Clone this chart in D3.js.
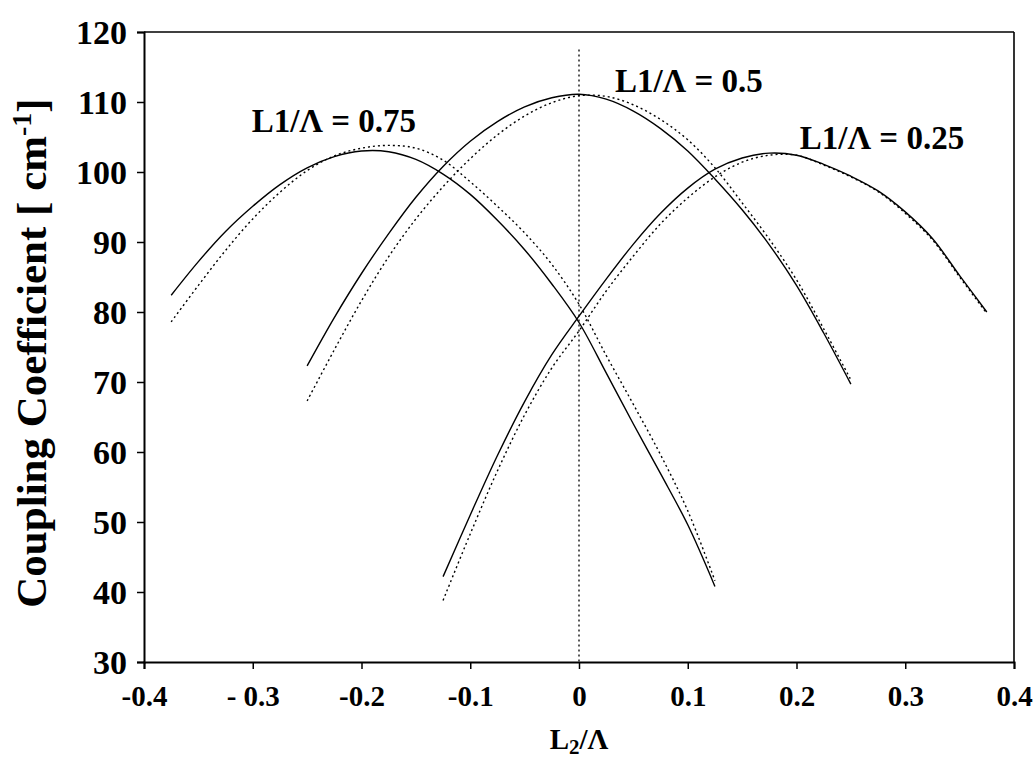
<!DOCTYPE html>
<html>
<head>
<meta charset="utf-8">
<script src="https://cdn.jsdelivr.net/npm/d3@7"></script>
<style>
  html, body { margin: 0; padding: 0; background: #fff; }
  svg { display: block; }
  text { font-family: "Liberation Serif", "Times New Roman", serif; font-weight: bold; fill: #000; }
</style>
</head>
<body>
<svg id="chart" width="1034" height="759"></svg>
<script>
// ---- data ----
const xTicks = [-0.4, -0.3, -0.2, -0.1, 0, 0.1, 0.2, 0.3, 0.4];
const xTickLabels = ["-0.4", "- 0.3", "-0.2", "-0.1", "0", "0.1", "0.2", "0.3", "0.4"];
const yTicks = [30, 40, 50, 60, 70, 80, 90, 100, 110, 120];

// L1/Λ = 0.75
const x075 = [-0.375, -0.35, -0.325, -0.3, -0.275, -0.25, -0.225, -0.2, -0.175, -0.15, -0.125, -0.1, -0.075, -0.05, -0.025, 0, 0.025, 0.05, 0.075, 0.1, 0.125];
const solid075 = [82.4, 87.2, 91.5, 95.1, 98.2, 100.6, 102.2, 103.0, 102.9, 101.8, 99.7, 96.8, 93.1, 88.9, 84.0, 78.5, 71.3, 64.0, 56.9, 49.6, 40.8];
const dotted075 = [78.6, 83.8, 88.8, 93.3, 97.1, 100.2, 102.3, 103.4, 103.8, 103.4, 101.7, 98.6, 95.1, 91.3, 86.8, 81.1, 73.8, 66.8, 59.6, 51.6, 41.6];

// L1/Λ = 0.5
const x05 = [-0.25, -0.225, -0.2, -0.175, -0.15, -0.125, -0.1, -0.075, -0.05, -0.025, 0, 0.025, 0.05, 0.075, 0.1, 0.125, 0.15, 0.175, 0.2, 0.225, 0.25];
const solid05 = [72.3, 79.2, 85.5, 91.2, 96.4, 100.8, 104.4, 107.2, 109.3, 110.6, 111.1, 110.4, 108.7, 106.2, 103.0, 99.0, 94.6, 89.6, 83.8, 77.0, 69.7];
const dotted05 = [67.3, 74.6, 81.6, 87.9, 93.3, 97.9, 101.9, 105.3, 108.0, 109.9, 110.9, 110.8, 109.6, 107.5, 104.6, 100.6, 95.6, 90.4, 84.6, 77.6, 70.3];

// L1/Λ = 0.25
const x025 = [-0.125, -0.1, -0.075, -0.05, -0.025, 0, 0.025, 0.05, 0.075, 0.1, 0.125, 0.15, 0.175, 0.2, 0.225, 0.25, 0.275, 0.3, 0.325, 0.35, 0.375];
const solid025 = [42.2, 51.0, 59.5, 67.2, 73.9, 79.4, 84.7, 89.7, 94.1, 97.7, 100.4, 102.0, 102.7, 102.4, 101.1, 99.4, 97.3, 94.3, 90.5, 85.2, 80.0];
const dotted025 = [38.8, 48.3, 57.3, 65.3, 72.0, 77.3, 83.0, 88.0, 92.6, 96.3, 99.3, 101.4, 102.4, 102.4, 101.0, 99.3, 97.2, 94.1, 90.3, 85.0, 79.8];

const labels = ["L1/Λ = 0.75", "L1/Λ = 0.5", "L1/Λ = 0.25"];
const labelX = [-0.301, 0.033, 0.203];
const labelY = [105.7, 111.4, 103.3];

// ---- layout ----
const W = 1034, H = 759;
const margin = { top: 32, right: 20, bottom: 97, left: 144 };
const svg = d3.select("#chart");
const g = svg.append("g").attr("transform", `translate(${margin.left},${margin.top})`);
const iw = W - margin.left - margin.right;
const ih = H - margin.top - margin.bottom;

const x = d3.scaleLinear().domain([-0.4, 0.4]).range([0, iw]);
const y = d3.scaleLinear().domain([30, 120]).range([ih, 0]);

// frame (top & right)
g.append("line").attr("x1", 0).attr("x2", iw).attr("y1", 0).attr("y2", 0)
  .attr("stroke", "#000").attr("stroke-width", 1.6);
g.append("line").attr("x1", iw).attr("x2", iw).attr("y1", 0).attr("y2", ih)
  .attr("stroke", "#000").attr("stroke-width", 1.6);

// vertical dotted line at 0
g.append("line")
  .attr("x1", x(0)).attr("x2", x(0))
  .attr("y1", y(117.5)).attr("y2", y(30))
  .attr("stroke", "#000").attr("stroke-width", 1.3)
  .attr("stroke-dasharray", "2,3");

// axes
const yAxis = g.append("g")
  .call(d3.axisLeft(y).tickValues(yTicks).tickSize(7).tickPadding(10).tickFormat(d3.format("d")));
yAxis.select(".domain").attr("stroke-width", 2);
yAxis.selectAll(".tick line").attr("stroke-width", 1.5);
yAxis.selectAll("text").style("font-size", "34px").attr("dy", "0.34em");

const xAxis = g.append("g").attr("transform", `translate(0,${ih})`)
  .call(d3.axisBottom(x).tickValues(xTicks).tickSize(7).tickFormat((d, i) => xTickLabels[i]));
xAxis.select(".domain").attr("stroke-width", 2);
xAxis.selectAll(".tick line").attr("stroke-width", 1.5);
xAxis.selectAll("text").style("font-size", "29px").attr("y", 44).attr("dy", 0);

// curves
const line = d3.line().x(d => x(d[0])).y(d => y(d[1])).curve(d3.curveCatmullRom.alpha(0.5));
const series = [
  [x075, solid075, false], [x075, dotted075, true],
  [x05, solid05, false], [x05, dotted05, true],
  [x025, solid025, false], [x025, dotted025, true]
];
series.forEach(([xs, vs, dotted]) => {
  g.append("path")
    .datum(xs.map((v, i) => [v, vs[i]]))
    .attr("d", line)
    .attr("fill", "none")
    .attr("stroke", "#000")
    .attr("stroke-width", 1.4)
    .attr("stroke-dasharray", dotted ? "2,3" : null);
});

// annotations
labels.forEach((t, i) => {
  g.append("text")
    .attr("x", x(labelX[i])).attr("y", y(labelY[i]))
    .style("font-size", "33px")
    .text(t);
});

// axis titles
const xt = svg.append("text")
  .attr("x", margin.left + x(0)).attr("y", 749)
  .attr("text-anchor", "middle")
  .style("font-size", "29px");
xt.append("tspan").text("L");
xt.append("tspan").attr("dy", 5).style("font-size", "21px").text("2");
xt.append("tspan").attr("dy", -5).text("/Λ");

const yt = svg.append("text")
  .attr("transform", "translate(46,353) rotate(-90)")
  .attr("text-anchor", "middle")
  .style("font-size", "43px");
yt.append("tspan").text("Coupling Coefficient [ cm");
yt.append("tspan").attr("dy", -15).style("font-size", "28px").text("-1");
yt.append("tspan").attr("dy", 15).text("]");
</script>
</body>
</html>
